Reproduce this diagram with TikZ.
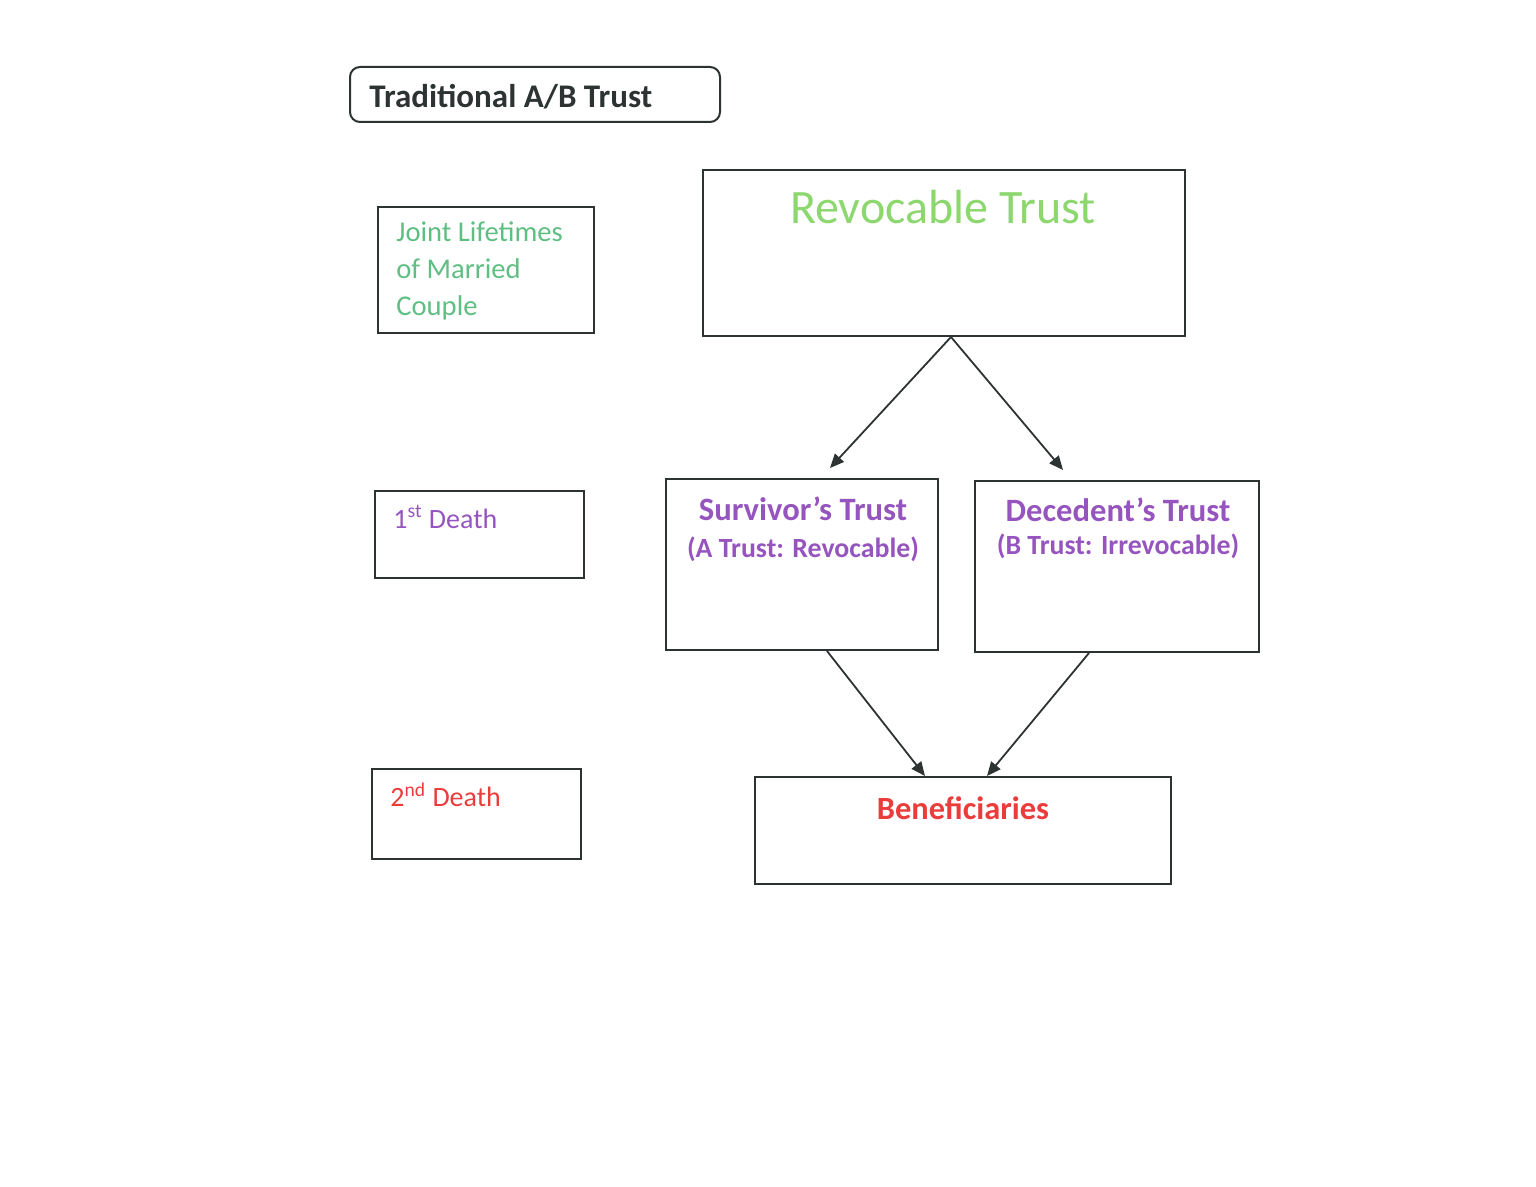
\documentclass[tikz,border=0pt]{standalone}
\usepackage{fontspec}
\setmainfont{Carlito}
\usetikzlibrary{arrows.meta}
\definecolor{jgreen}{RGB}{95,190,130}
\definecolor{rgreen}{RGB}{140,215,110}
\definecolor{purp}{RGB}{150,85,190}
\definecolor{tred}{RGB}{235,60,60}
\definecolor{ink}{RGB}{45,50,50}
\begin{document}
\begin{tikzpicture}[x=0.5pt,y=-0.5pt,
  box/.style={draw=ink,line width=1pt},
  arr/.style={draw=ink,line width=0.9pt,-{Triangle[length=7pt,width=6pt]}},
  txt/.style={inner sep=0pt}]
\useasboundingbox (0,0) rectangle (1536,1187);
\draw[box,rounded corners=5pt] (350,67) rectangle (720,122);
\node[txt,anchor=west,text=ink,font=\fontsize{16.5}{18}\selectfont\bfseries] (title) at (369,97) {Traditional A/B Trust};
\draw[box] (378,207) rectangle (594,333);
\node[txt,anchor=north west,text=jgreen,align=left,font=\fontsize{14.3}{18.5}\selectfont] (joint) at (396,221) {Joint Lifetimes\\of Married\\Couple};
\draw[box] (703,170) rectangle (1185,336);
\node[txt,text=rgreen,font=\fontsize{24}{26}\selectfont] (revt) at (943,207) {Revocable Trust};
\coordinate (rev) at (951,337);
\draw[box] (375,491) rectangle (584,578);
\node[txt,anchor=west,text=purp,font=\fontsize{14}{15}\selectfont] (d1) at (393,517) {1\textsuperscript{st} Death};
\draw[box] (666,479) rectangle (938,650);
\node[txt,text=purp,font=\fontsize{16.3}{17}\selectfont\bfseries] (surv) at (803,509) {Survivor’s Trust};
\node[txt,text=purp,font=\fontsize{13.9}{15}\selectfont\bfseries] (survb) at (803,549) {(A Trust: Revocable)};
\draw[box] (975,481) rectangle (1259,652);
\node[txt,text=purp,font=\fontsize{16.3}{17}\selectfont\bfseries] (dec) at (1118,510) {Decedent’s Trust};
\node[txt,text=purp,font=\fontsize{13.9}{15}\selectfont\bfseries] (decb) at (1118,546) {(B Trust: Irrevocable)};
\draw[box] (372,769) rectangle (581,859);
\node[txt,anchor=west,text=tred,font=\fontsize{14}{15}\selectfont] (d2) at (390,795) {2\textsuperscript{nd} Death};
\draw[box] (755,777) rectangle (1171,884);
\node[txt,text=tred,font=\fontsize{16.2}{17}\selectfont\bfseries] (ben) at (963,808) {Beneficiaries};
\coordinate (s1) at (830,468); \coordinate (s2) at (1063,470);
\coordinate (sb) at (827,651); \coordinate (db) at (1089,653);
\coordinate (b1) at (925,776); \coordinate (b2) at (987,776);
\draw[arr] (rev) -- (s1);
\draw[arr] (rev) -- (s2);
\draw[arr] (sb) -- (b1);
\draw[arr] (db) -- (b2);
\end{tikzpicture}
\end{document}
